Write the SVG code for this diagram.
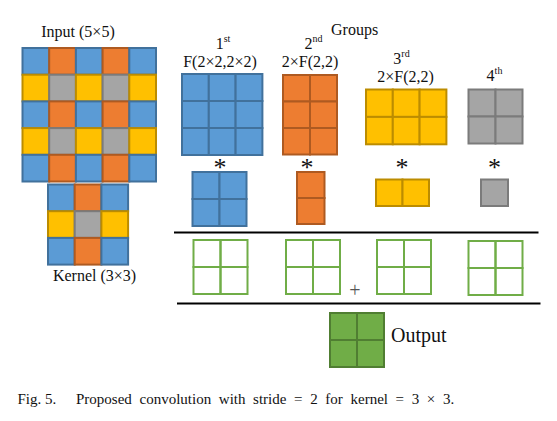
<svg xmlns="http://www.w3.org/2000/svg" width="557" height="421" viewBox="0 0 557 421">
<style>
text{font-family:"Liberation Serif","Times New Roman",serif;fill:#111;}
.lbl{font-size:16px;}
.c{text-anchor:middle;}
.sup{font-size:10px;}
.ast{font-size:26px;text-anchor:middle;}
.b{fill:#5B9BD5;stroke:#41719C;stroke-width:2;}
.o{fill:#ED7D31;stroke:#AE5A21;stroke-width:2;}
.y{fill:#FFC000;stroke:#BC8C00;stroke-width:2;}
.g{fill:#A5A5A5;stroke:#7B7B7B;stroke-width:2;}
.gr{fill:none;stroke:#70AD47;stroke-width:2;}
.out{fill:#70AD47;stroke:#507E32;stroke-width:2;}
.sep{stroke:#000;stroke-width:2.2;}
</style>
<rect width="557" height="421" fill="#fff"/>

<g id="input">
<text class="lbl c" x="78" y="37">Input (5×5)</text>
<rect class="b" x="22.5" y="48" width="26.7" height="26.7"/><rect class="o" x="49.2" y="48" width="26.7" height="26.7"/><rect class="b" x="75.9" y="48" width="26.7" height="26.7"/><rect class="o" x="102.6" y="48" width="26.7" height="26.7"/><rect class="b" x="129.3" y="48" width="26.7" height="26.7"/>
<rect class="y" x="22.5" y="74.7" width="26.7" height="26.7"/><rect class="g" x="49.2" y="74.7" width="26.7" height="26.7"/><rect class="y" x="75.9" y="74.7" width="26.7" height="26.7"/><rect class="g" x="102.6" y="74.7" width="26.7" height="26.7"/><rect class="y" x="129.3" y="74.7" width="26.7" height="26.7"/>
<rect class="b" x="22.5" y="101.4" width="26.7" height="26.7"/><rect class="o" x="49.2" y="101.4" width="26.7" height="26.7"/><rect class="b" x="75.9" y="101.4" width="26.7" height="26.7"/><rect class="o" x="102.6" y="101.4" width="26.7" height="26.7"/><rect class="b" x="129.3" y="101.4" width="26.7" height="26.7"/>
<rect class="y" x="22.5" y="128.1" width="26.7" height="26.7"/><rect class="g" x="49.2" y="128.1" width="26.7" height="26.7"/><rect class="y" x="75.9" y="128.1" width="26.7" height="26.7"/><rect class="g" x="102.6" y="128.1" width="26.7" height="26.7"/><rect class="y" x="129.3" y="128.1" width="26.7" height="26.7"/>
<rect class="b" x="22.5" y="154.8" width="26.7" height="26.7"/><rect class="o" x="49.2" y="154.8" width="26.7" height="26.7"/><rect class="b" x="75.9" y="154.8" width="26.7" height="26.7"/><rect class="o" x="102.6" y="154.8" width="26.7" height="26.7"/><rect class="b" x="129.3" y="154.8" width="26.7" height="26.7"/>
</g>

<g id="kernel">
<rect class="b" x="48" y="184.5" width="26.7" height="26.7"/><rect class="o" x="74.7" y="184.5" width="26.7" height="26.7"/><rect class="b" x="101.4" y="184.5" width="26.7" height="26.7"/>
<rect class="y" x="48" y="211.2" width="26.7" height="26.7"/><rect class="g" x="74.7" y="211.2" width="26.7" height="26.7"/><rect class="y" x="101.4" y="211.2" width="26.7" height="26.7"/>
<rect class="b" x="48" y="237.9" width="26.7" height="26.7"/><rect class="o" x="74.7" y="237.9" width="26.7" height="26.7"/><rect class="b" x="101.4" y="237.9" width="26.7" height="26.7"/>
<text class="lbl c" x="94.5" y="280.5">Kernel (3×3)</text>
</g>

<g id="groups-title">
<text class="lbl" x="331" y="35">Groups</text>
</g>

<g id="group1">
<text class="lbl c" x="223" y="48.5">1<tspan class="sup" dy="-7">st</tspan></text>
<text class="lbl c" x="220" y="67">F(2×2,2×2)</text>
<rect class="b" x="182" y="74" width="26.8" height="27"/><rect class="b" x="208.8" y="74" width="26.8" height="27"/><rect class="b" x="235.6" y="74" width="26.8" height="27"/>
<rect class="b" x="182" y="101" width="26.8" height="27"/><rect class="b" x="208.8" y="101" width="26.8" height="27"/><rect class="b" x="235.6" y="101" width="26.8" height="27"/>
<rect class="b" x="182" y="128" width="26.8" height="27"/><rect class="b" x="208.8" y="128" width="26.8" height="27"/><rect class="b" x="235.6" y="128" width="26.8" height="27"/>
<text class="ast" x="220" y="176">*</text>
<rect class="b" x="192.5" y="172" width="27" height="27"/><rect class="b" x="219.5" y="172" width="27" height="27"/>
<rect class="b" x="192.5" y="199" width="27" height="27"/><rect class="b" x="219.5" y="199" width="27" height="27"/>
</g>

<g id="group2">
<text class="lbl c" x="313.5" y="48.5">2<tspan class="sup" dy="-7">nd</tspan></text>
<text class="lbl c" x="310" y="67">2×F(2,2)</text>
<rect class="o" x="283" y="75" width="27" height="26.5"/><rect class="o" x="310" y="75" width="27" height="26.5"/>
<rect class="o" x="283" y="101.5" width="27" height="26.5"/><rect class="o" x="310" y="101.5" width="27" height="26.5"/>
<rect class="o" x="283" y="128" width="27" height="26.5"/><rect class="o" x="310" y="128" width="27" height="26.5"/>
<text class="ast" x="307" y="176">*</text>
<rect class="o" x="297" y="172" width="27.5" height="26"/><rect class="o" x="297" y="198" width="27.5" height="26"/>
</g>

<g id="group3">
<text class="lbl c" x="401.5" y="63.5">3<tspan class="sup" dy="-7">rd</tspan></text>
<text class="lbl c" x="405.5" y="82">2×F(2,2)</text>
<rect class="y" x="366" y="89.5" width="26.8" height="27.4"/><rect class="y" x="392.8" y="89.5" width="26.8" height="27.4"/><rect class="y" x="419.6" y="89.5" width="26.8" height="27.4"/>
<rect class="y" x="366" y="116.9" width="26.8" height="27.4"/><rect class="y" x="392.8" y="116.9" width="26.8" height="27.4"/><rect class="y" x="419.6" y="116.9" width="26.8" height="27.4"/>
<text class="ast" x="402" y="176">*</text>
<rect class="y" x="376" y="179.5" width="26.5" height="26.5"/><rect class="y" x="402.5" y="179.5" width="26.5" height="26.5"/>
</g>

<g id="group4">
<text class="lbl c" x="494.5" y="81">4<tspan class="sup" dy="-7">th</tspan></text>
<rect class="g" x="468.5" y="89.5" width="27" height="27"/><rect class="g" x="495.5" y="89.5" width="27" height="27"/>
<rect class="g" x="468.5" y="116.5" width="27" height="27"/><rect class="g" x="495.5" y="116.5" width="27" height="27"/>
<text class="ast" x="494.5" y="176">*</text>
<rect class="g" x="481" y="179.5" width="27" height="26.5"/>
</g>

<g id="connectors">
<line class="sep" x1="174" y1="232.5" x2="538.5" y2="232.5"/>
<line class="sep" x1="177" y1="303.5" x2="540.5" y2="303.5"/>
</g>

<g id="partial1">
<rect class="gr" x="193.5" y="240" width="27" height="27"/><rect class="gr" x="220.5" y="240" width="27" height="27"/>
<rect class="gr" x="193.5" y="267" width="27" height="27"/><rect class="gr" x="220.5" y="267" width="27" height="27"/>
</g>
<g id="partial2">
<rect class="gr" x="286" y="240" width="27" height="27"/><rect class="gr" x="313" y="240" width="27" height="27"/>
<rect class="gr" x="286" y="267" width="27" height="27"/><rect class="gr" x="313" y="267" width="27" height="27"/>
</g>
<g id="plus">
<text x="355" y="297" style="font-size:20px;text-anchor:middle;fill:#555">+</text>
</g>
<g id="partial3">
<rect class="gr" x="377" y="240" width="27" height="27"/><rect class="gr" x="404" y="240" width="27" height="27"/>
<rect class="gr" x="377" y="267" width="27" height="27"/><rect class="gr" x="404" y="267" width="27" height="27"/>
</g>
<g id="partial4">
<rect class="gr" x="468.5" y="241" width="27" height="27"/><rect class="gr" x="495.5" y="241" width="27" height="27"/>
<rect class="gr" x="468.5" y="268" width="27" height="27"/><rect class="gr" x="495.5" y="268" width="27" height="27"/>
</g>

<g id="output">
<rect class="out" x="330" y="313" width="27" height="27"/><rect class="out" x="357" y="313" width="27" height="27"/>
<rect class="out" x="330" y="340" width="27" height="27"/><rect class="out" x="357" y="340" width="27" height="27"/>
<text x="391" y="342" style="font-size:20px">Output</text>
</g>

<g id="caption">
<text x="17.5" y="404" style="font-size:15px">Fig. 5.</text>
<text x="76" y="404" style="font-size:15px;word-spacing:3.9px">Proposed convolution with stride = 2 for kernel = 3 × 3.</text>
</g>
</svg>
